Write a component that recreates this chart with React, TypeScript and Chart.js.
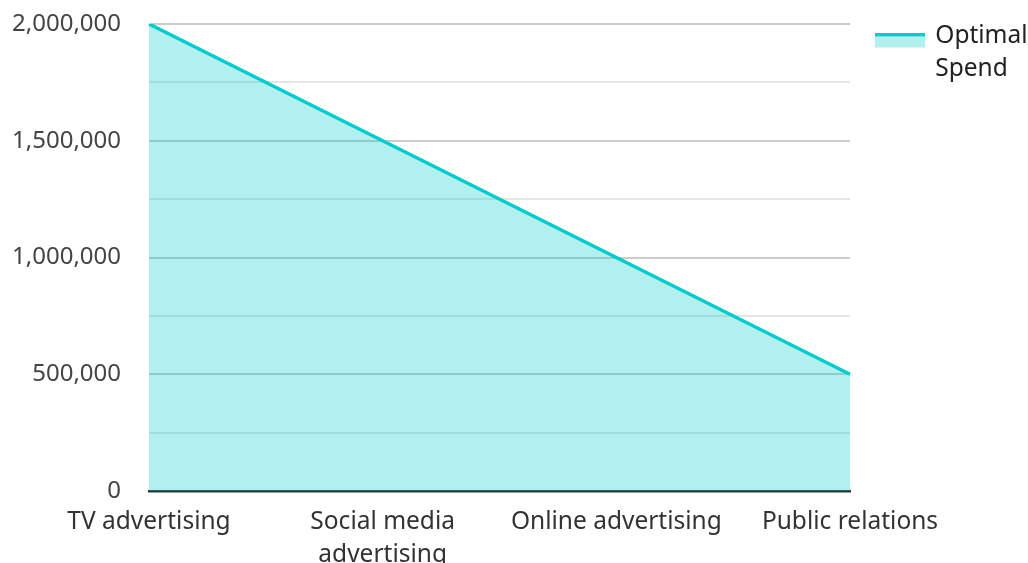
import { useEffect, useRef } from "react";
import { Chart, registerables } from "chart.js";

Chart.register(...registerables);

const categories: (string | string[])[] = [
  "TV advertising",
  ["Social media", "advertising"],
  "Online advertising",
  "Public relations",
];
const seriesName: string[] = ["Optimal", "Spend"];
const optimalSpend: number[] = [2000000, 1500000, 1000000, 500000];
const labelledTicks: number[] = [0, 500000, 1000000, 1500000, 2000000];

const LINE = "#00cccc";
const FILL = "rgba(0,204,204,0.3)";
const FONT = "'Noto Sans', 'Open Sans', sans-serif";

const legendSwatch = {
  id: "legendSwatch",
  afterDraw(chart: any) {
    const legend = chart.legend;
    if (!legend || !legend.legendHitBoxes || !legend.legendHitBoxes.length) return;
    const hb = legend.legendHitBoxes[0];
    const ctx = chart.ctx;
    const x = hb.left + 1;
    const y = hb.top + 9;
    ctx.save();
    ctx.fillStyle = FILL;
    ctx.fillRect(x, y + 3.5, 50, 11);
    ctx.fillStyle = LINE;
    ctx.fillRect(x, y, 50, 3.5);
    ctx.restore();
  },
};

export default function App() {
  const ref = useRef<HTMLCanvasElement | null>(null);

  useEffect(() => {
    document.body.style.margin = "0";
    const canvas = ref.current;
    if (!canvas) return;
    const chart = new Chart(canvas, {
      type: "line",
      data: {
        labels: categories as any,
        datasets: [
          {
            label: seriesName as any,
            data: optimalSpend,
            borderColor: LINE,
            backgroundColor: FILL,
            borderWidth: 3.5,
            fill: "origin",
            pointRadius: 0,
            pointHoverRadius: 0,
            tension: 0,
          },
        ],
      },
      options: {
        animation: false,
        responsive: true,
        maintainAspectRatio: false,
        layout: { padding: 0 },
        plugins: {
          tooltip: { enabled: false },
          legend: {
            position: "right",
            align: "start",
            maxWidth: 178,
            labels: {
              boxWidth: 49,
              boxHeight: 14,
              padding: 24,
              color: "#222",
              font: { family: FONT, size: 24.5, lineHeight: 1.33 },
              generateLabels: (chart: any) =>
                chart.data.datasets.map((ds: any, i: number) => ({
                  text: ds.label,
                  fillStyle: "rgba(0,0,0,0)",
                  strokeStyle: "rgba(0,0,0,0)",
                  lineWidth: 0,
                  hidden: false,
                  datasetIndex: i,
                  fontColor: "#222",
                })),
            },
          },
        },
        scales: {
          x: {
            offset: false,
            grid: { display: false, drawTicks: false },
            border: { display: true, color: "#333", width: 2.5 },
            ticks: {
              color: "#333",
              padding: 14,
              maxRotation: 0,
              autoSkip: false,
              font: { family: FONT, size: 24.5, lineHeight: 1.37 },
            },
            afterFit: (scale: any) => {
              scale.height = 72;
            },
          },
          y: {
            min: 0,
            max: 2000000,
            grid: {
              drawTicks: false,
              lineWidth: 2,
              color: (ctx: any) =>
                ctx.tick && labelledTicks.includes(ctx.tick.value) ? "#cccccc" : "#e6e6e6",
            },
            border: { display: false },
            ticks: {
              stepSize: 250000,
              padding: 28,
              color: "#444",
              font: { family: FONT, size: 24, lineHeight: 1.3 },
              callback: (v: any) =>
                labelledTicks.includes(Number(v)) ? Number(v).toLocaleString("en-US") : "",
            },
            afterFit: (scale: any) => {
              scale.width = 149;
              scale.paddingTop = 24;
            },
          },
        },
      },
      plugins: [legendSwatch],
    });
    return () => chart.destroy();
  }, []);

  return (
    <div style={{ position: "fixed", left: 0, top: 0, width: 1028, height: 563 }}>
      <canvas ref={ref} />
    </div>
  );
}
